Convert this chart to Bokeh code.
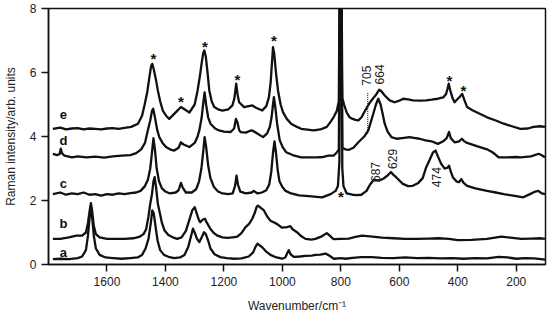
import numpy as np
from bokeh.plotting import figure
from bokeh.models import Range1d, FixedTicker
from bokeh.core.properties import value
from bokeh.embed import file_html
from bokeh.resources import INLINE

# ---------------- data ----------------
wn_a = [1785, 1760, 1730, 1700, 1685, 1672, 1665, 1659, 1655, 1651, 1645, 1638, 1625, 1605, 1580, 1550,
        1520, 1495, 1480, 1468, 1458, 1450, 1445, 1440, 1434, 1427, 1418, 1405, 1390, 1370, 1350, 1335,
        1322, 1312, 1306, 1300, 1292, 1284, 1276, 1268, 1262, 1254, 1246, 1232, 1212, 1190, 1165, 1140,
        1115, 1100, 1092, 1085, 1078, 1069, 1055, 1041, 1020, 1001, 990, 982, 978, 972, 961, 940, 921,
        900, 887, 870, 852, 840, 824, 800, 784, 760, 730, 694, 660, 620, 580, 540, 500, 460, 420, 380,
        340, 300, 260, 230, 200, 170, 140, 115, 102]
int_a = [0.17, 0.18, 0.17, 0.20, 0.25, 0.45, 0.90, 1.50, 1.80, 1.50, 0.90, 0.50, 0.30, 0.22, 0.20, 0.18,
         0.20, 0.22, 0.30, 0.50, 0.80, 1.30, 1.69, 1.60, 1.20, 0.75, 0.45, 0.30, 0.24, 0.20, 0.22, 0.30,
         0.55, 0.90, 1.12, 1.00, 0.80, 0.70, 0.85, 1.01, 0.95, 0.75, 0.50, 0.32, 0.23, 0.20, 0.18, 0.19,
         0.25, 0.38, 0.55, 0.65, 0.60, 0.54, 0.40, 0.30, 0.22, 0.18, 0.22, 0.38, 0.45, 0.32, 0.24, 0.25, 0.27,
         0.28, 0.30, 0.31, 0.34, 0.28, 0.18, 0.20, 0.18, 0.21, 0.23, 0.23, 0.21, 0.20, 0.22, 0.20, 0.21, 0.19, 0.20, 0.18,
         0.20, 0.19, 0.24, 0.22, 0.18, 0.20, 0.19, 0.17, 0.15]

wn_b = [1785, 1760, 1730, 1705, 1685, 1672, 1665, 1659, 1655, 1651, 1645, 1638, 1625, 1600, 1570, 1540,
        1510, 1490, 1475, 1466, 1458, 1452, 1446, 1441, 1437, 1432, 1426, 1419, 1412, 1403, 1390, 1375,
        1360, 1345, 1330, 1318, 1308, 1300, 1293, 1285, 1281, 1273, 1265, 1258, 1246, 1234, 1222, 1205,
        1188, 1170, 1154, 1140, 1126, 1114, 1103, 1095, 1088, 1084, 1075, 1063, 1052, 1041, 1030, 1019,
        1001, 984, 973, 965, 950, 935, 921, 900, 887, 865, 848, 838, 825, 800, 773, 750, 728, 700,
        660, 620, 580, 540, 500, 467, 430, 400, 353, 300, 251, 220, 183, 150, 115, 102]
int_b = [0.80, 0.80, 0.85, 0.90, 0.90, 1.00, 1.30, 1.70, 1.92, 1.70, 1.20, 0.95, 0.85, 0.80, 0.80, 0.80,
         0.82, 0.86, 0.95, 1.10, 1.50, 1.90, 2.20, 2.60, 2.73, 2.40, 1.90, 1.60, 1.30, 1.06, 0.92, 0.85,
         0.80, 0.85, 1.05, 1.40, 1.70, 1.79, 1.60, 1.38, 1.32, 1.40, 1.43, 1.30, 1.11, 0.98, 0.90, 0.85,
         0.83, 0.85, 0.87, 0.98, 1.17, 1.27, 1.43, 1.60, 1.80, 1.84, 1.78, 1.69, 1.50, 1.37, 1.32, 1.27,
         1.15, 1.17, 1.20, 1.10, 1.01, 0.88, 0.80, 0.78, 0.80, 0.88, 0.98, 0.90, 0.79, 0.80, 0.81, 0.86, 0.90, 0.88,
         0.84, 0.82, 0.80, 0.80, 0.81, 0.82, 0.80, 0.76, 0.77, 0.80, 0.87, 0.84, 0.80, 0.81, 0.82, 0.80]

wn_c = [1785, 1760, 1740, 1720, 1700, 1680, 1660, 1640, 1620, 1600, 1580, 1560, 1540, 1520, 1500, 1485,
        1470, 1460, 1452, 1446, 1441, 1436, 1430, 1422, 1412, 1400, 1385, 1365, 1355, 1347, 1341, 1330,
        1310, 1295, 1285, 1277, 1270, 1266, 1261, 1254, 1246, 1234, 1220, 1205, 1185, 1170, 1162, 1157,
        1152, 1144, 1125, 1105, 1098, 1085, 1070, 1055, 1045, 1038, 1032, 1027, 1022, 1016, 1010, 1000,
        989, 970, 943, 900, 864, 835, 818, 810, 805, 802, 798, 795, 791, 780, 760, 746, 730, 712,
        700, 687, 670, 655, 640, 629, 620, 610, 588, 570, 554, 535, 520, 508, 495, 485, 476, 468, 457,
        445, 436, 430, 424, 417, 405, 396, 388, 380, 368, 340, 300, 270, 243, 210, 176, 153, 135, 125,
        112, 102]
int_c = [2.20, 2.25, 2.18, 2.22, 2.20, 2.25, 2.18, 2.20, 2.15, 2.20, 2.18, 2.22, 2.20, 2.23, 2.25, 2.30,
         2.45, 2.65, 3.00, 3.50, 3.95, 3.60, 3.00, 2.60, 2.38, 2.28, 2.22, 2.25, 2.32, 2.55, 2.40, 2.25,
         2.25, 2.35, 2.60, 3.00, 3.60, 3.98, 3.70, 3.10, 2.70, 2.42, 2.28, 2.22, 2.20, 2.22, 2.45, 2.78,
         2.50, 2.28, 2.22, 2.25, 2.30, 2.22, 2.25, 2.32, 2.50, 2.90, 3.50, 3.85, 3.50, 2.95, 2.60, 2.42,
         2.30, 2.22, 2.16, 2.13, 2.10, 2.20, 2.30, 2.45, 3.20, 9.50, 9.50, 3.00, 2.45, 2.22, 2.18, 2.17, 2.18, 2.30,
         2.50, 2.65, 2.62, 2.68, 2.78, 2.89, 2.80, 2.72, 2.52, 2.45, 2.46, 2.55, 2.70, 3.04, 3.30, 3.50, 3.56, 3.38, 3.15,
         3.00, 3.02, 3.09, 2.90, 2.73, 2.60, 2.57, 2.67, 2.55, 2.46, 2.38, 2.30, 2.25, 2.20, 2.15, 2.10, 2.20, 2.28, 2.30,
         2.22, 2.20]

wn_d = [1785, 1770, 1762, 1758, 1754, 1745, 1720, 1700, 1670, 1640, 1610, 1580, 1550, 1520, 1500, 1483,
        1470, 1460, 1452, 1446, 1442, 1436, 1428, 1421, 1410, 1398, 1380, 1370, 1355, 1347, 1338, 1318,
        1300, 1290, 1284, 1276, 1270, 1266, 1261, 1254, 1246, 1230, 1217, 1200, 1177, 1165, 1159, 1154,
        1148, 1143, 1125, 1110, 1103, 1090, 1066, 1052, 1043, 1037, 1032, 1029, 1024, 1018, 1009, 998,
        987, 965, 936, 900, 882, 860, 842, 825, 814, 807, 803, 799, 795, 785, 774, 757, 740, 720, 706, 689, 680,
        672, 664, 658, 650, 640, 627, 610, 590, 565, 545, 531, 510, 490, 468, 450, 438, 430, 424, 411,
        395, 386, 378, 368, 335, 300, 280, 260, 230, 200, 185, 150, 123, 110, 102]
int_d = [3.46, 3.42, 3.45, 3.62, 3.48, 3.40, 3.35, 3.38, 3.35, 3.37, 3.34, 3.38, 3.40, 3.42, 3.48, 3.60,
         3.80, 4.20, 4.50, 4.80, 4.87, 4.60, 4.20, 3.98, 3.80, 3.67, 3.58, 3.56, 3.65, 3.82, 3.75, 3.67,
         3.80, 4.00, 4.19, 4.60, 5.10, 5.38, 5.00, 4.60, 4.40, 4.25, 4.19, 4.15, 4.14, 4.25, 4.55, 4.45,
         4.20, 4.14, 4.12, 4.18, 4.19, 4.12, 3.98, 4.10, 4.30, 4.60, 5.00, 5.23, 4.90, 4.40, 3.88, 3.65,
         3.51, 3.42, 3.35, 3.35, 3.35, 3.36, 3.40, 3.40, 3.50, 3.60, 9.50, 9.50, 3.65, 3.60, 3.58, 3.65, 3.82, 4.00, 4.19, 4.71, 5.00,
         5.18, 5.00, 4.75, 4.40, 4.15, 3.98, 3.93, 3.95, 3.98, 3.95, 3.93, 3.88, 3.85, 3.77, 3.85, 3.95, 4.14, 3.95, 3.82,
         3.85, 3.93, 3.85, 3.80, 3.70, 3.60, 3.50, 3.35, 3.35, 3.36, 3.35, 3.38, 3.46, 3.40, 3.35]

wn_e = [1785, 1760, 1740, 1720, 1700, 1680, 1660, 1640, 1620, 1600, 1580, 1560, 1540, 1517, 1494, 1480,
        1471, 1462, 1455, 1449, 1445, 1440, 1433, 1426, 1418, 1409, 1398, 1387, 1375, 1360, 1347, 1335,
        1318, 1300, 1290, 1282, 1276, 1271, 1267, 1262, 1256, 1250, 1242, 1233, 1220, 1205, 1185, 1171,
        1164, 1158, 1153, 1148, 1131, 1115, 1103, 1090, 1069, 1055, 1046, 1040, 1035, 1032, 1028, 1022,
        1015, 1006, 998, 985, 970, 950, 936, 893, 870, 848, 836, 825, 814, 807, 804, 798, 795, 789, 780,
        770, 760, 750, 740, 728, 717, 705, 700, 689, 678, 669, 662, 650, 633, 616, 600, 587, 570, 553,
        530, 508, 490, 468, 450, 440, 435, 431, 426, 418, 411, 400, 394, 385, 378, 368, 350, 334, 300,
        270, 243, 215, 186, 160, 141, 118, 102]
int_e = [4.24, 4.28, 4.22, 4.25, 4.26, 4.22, 4.25, 4.24, 4.22, 4.25, 4.26, 4.24, 4.27, 4.30, 4.40, 4.65,
         5.00, 5.40, 5.85, 6.20, 6.27, 6.10, 5.80, 5.44, 5.10, 4.81, 4.65, 4.55, 4.66, 4.80, 4.92, 4.85,
         4.75, 5.00, 5.44, 5.90, 6.30, 6.60, 6.69, 6.50, 6.00, 5.44, 5.10, 4.92, 4.85, 4.81, 4.85, 4.97,
         5.20, 5.65, 5.30, 5.07, 4.92, 4.95, 4.97, 4.90, 4.81, 4.95, 5.23, 5.70, 6.40, 6.79, 6.60, 6.00,
         5.44, 5.00, 4.76, 4.55, 4.40, 4.30, 4.24, 4.19, 4.22, 4.30, 4.45, 4.60, 4.80, 5.10, 9.50, 9.50, 5.20, 5.00, 4.75,
         4.60, 4.55, 4.52, 4.50, 4.62, 4.81, 5.00, 5.07, 5.20, 5.33, 5.46, 5.42, 5.28, 5.13, 5.07, 5.12, 5.18, 5.16, 5.13,
         5.12, 5.13, 5.15, 5.18, 5.22, 5.33, 5.50, 5.65, 5.45, 5.20, 5.07, 5.18, 5.23, 5.33, 5.15, 4.92, 4.82, 4.75, 4.60,
         4.50, 4.40, 4.32, 4.24, 4.25, 4.30, 4.32, 4.30]

trace_names = ["a", "b", "c", "d", "e"]
trace_label_wn = [1749, 1749, 1749, 1749, 1749]
trace_label_y = [0.38, 1.29, 2.52, 3.88, 4.70]

star_wn = [1441, 1347, 1265, 1154, 1029, 429, 381, 800]
star_y = [6.53, 5.18, 6.92, 5.88, 7.08, 5.85, 5.52, 2.23]

band_text = ["705", "664", "687", "629", "474"]
band_wn = [712, 667, 681, 625, 472]
band_y = [5.90, 5.94, 2.89, 3.30, 2.73]

marker_705_wn = [708]
marker_705_y0 = [4.08]
marker_705_y1 = [5.38]

x_ticks = [1600, 1400, 1200, 1000, 800, 600, 400, 200]
y_ticks = [0, 2, 4, 6, 8]

# ---------------- figure ----------------
FONT = "Liberation Sans"
TICK_FONT = "'Liberation Sans Narrow', 'Liberation Sans', sans-serif"
INK = "#111111"

p = figure(width=547, height=315, output_backend="svg", toolbar_location=None,
           x_range=Range1d(1800, 100), y_range=Range1d(0, 8),
           min_border_left=45, min_border_right=2, min_border_top=8, min_border_bottom=51)
p.background_fill_color = "white"
p.border_fill_color = "white"
p.outline_line_color = INK
p.outline_line_width = 1.5
p.grid.visible = False

for ax in (p.xaxis[0], p.yaxis[0]):
    ax.axis_line_color = INK
    ax.axis_line_width = 1.5
    ax.major_tick_line_color = INK
    ax.major_tick_line_width = 1.5
    ax.major_tick_out = 7
    ax.major_tick_in = 0
    ax.minor_tick_line_color = None
    ax.major_label_text_font = TICK_FONT
    ax.major_label_text_font_size = "12px"
    ax.major_label_text_color = "#222222"
    ax.major_label_standoff = 5
    ax.axis_label_text_font = FONT
    ax.axis_label_text_font_size = "12px"
    ax.axis_label_text_font_style = "normal"
    ax.axis_label_text_color = "#222222"

p.xaxis.ticker = FixedTicker(ticks=x_ticks)
p.yaxis.ticker = FixedTicker(ticks=y_ticks)
p.xaxis.axis_label = "Wavenumber/cm\u207b\u00b9"
p.yaxis.axis_label = "Raman intensity/arb. units"
p.xaxis.axis_label_standoff = 10
p.yaxis.axis_label_standoff = 9

for wn, it in [(wn_a, int_a), (wn_b, int_b), (wn_c, int_c), (wn_d, int_d), (wn_e, int_e)]:
    p.line(wn, it, line_color=INK, line_width=2.3, line_join="round")

p.segment(x0=marker_705_wn, y0=marker_705_y0, x1=marker_705_wn, y1=marker_705_y1,
          line_color=INK, line_width=1, line_dash="1 1")

p.text(x=trace_label_wn, y=trace_label_y, text=trace_names, text_font=value(FONT),
       text_font_size="13px", text_font_style="bold", text_color=INK,
       text_align="center", text_baseline="middle")

p.text(x=star_wn, y=star_y, text=["*"] * len(star_wn), text_font=value(FONT),
       text_font_size="15px", text_font_style="bold", text_color=INK,
       text_align="center", text_baseline="middle", y_offset=3)

p.text(x=band_wn, y=band_y, text=band_text, text_font=value(FONT),
       text_font_size="12px", text_color="#222222", angle=np.pi / 2,
       text_align="center", text_baseline="middle")

open("out.html", "w").write(file_html(p, INLINE))
